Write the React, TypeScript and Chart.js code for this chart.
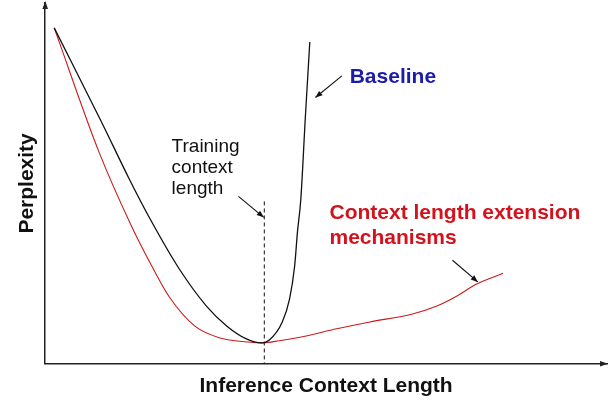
import { useEffect, useRef } from "react"
import { Chart, registerables } from "chart.js"
import type { Plugin } from "chart.js"

Chart.register(...registerables)

// curves, arbitrary units (0-100 on both axes)
const baselineX = [1.6, 10.0, 15.0, 18.9, 23.9, 28.7, 32.3, 35.8, 38.5, 39.9, 42.2, 43.5, 44.4, 44.9, 45.5, 46.3, 47.1]
const baselineY = [93.1, 67.1, 51.1, 39.5, 26.2, 16.0, 10.5, 6.9, 5.8, 6.6, 11.6, 18.0, 27.1, 36.5, 45.6, 68.2, 89.2]

const extendedX = [1.6, 9.6, 15.2, 18.9, 22.1, 26.6, 31.0, 35.5, 38.5, 41.7, 45.8, 51.9, 57.8, 65.4, 69.7, 73.3, 76.8, 81.5]
const extendedY = [93.1, 58.6, 38.7, 27.3, 18.5, 10.5, 7.2, 6.1, 5.8, 6.4, 7.5, 9.7, 11.6, 13.8, 16.0, 18.8, 22.1, 25.1]

// training context length marker
const trainingLength = 39.0
const markerTop = 45

const FONT = "'Liberation Sans', Arial, sans-serif"

const toPoints = (xs: number[], ys: number[]) => xs.map((x, i) => ({ x, y: ys[i] }))

function arrowHead(ctx: CanvasRenderingContext2D, x1: number, y1: number, x2: number, y2: number, len = 7, half = 2.8) {
  const a = Math.atan2(y2 - y1, x2 - x1)
  ctx.beginPath()
  ctx.moveTo(x2, y2)
  ctx.lineTo(x2 - len * Math.cos(a) + half * Math.sin(a), y2 - len * Math.sin(a) - half * Math.cos(a))
  ctx.lineTo(x2 - len * Math.cos(a) - half * Math.sin(a), y2 - len * Math.sin(a) + half * Math.cos(a))
  ctx.closePath()
  ctx.fill()
}

// annotations: arrows from/to in data units, labels with baseline positions
const arrows = [
  { from: [34.4, 46.4], to: [38.9, 40.6] },
  { from: [52.8, 79.8], to: [48.1, 73.8] },
  { from: [72.5, 28.7], to: [77.0, 22.7] },
]

const labels = [
  { lines: ["Training", "context", "length"], x: 22.5, y: 58.8, step: 5.9, font: `19px ${FONT}`, color: "#111" },
  { lines: ["Baseline"], x: 54.2, y: 77.9, step: 0, font: `bold 21px ${FONT}`, color: "#1c1cab" },
  { lines: ["Context length extension", "mechanisms"], x: 50.6, y: 40.1, step: 7.0, font: `bold 21px ${FONT}`, color: "#d4121c" },
]

const sketchPlugin: Plugin<"line"> = {
  id: "sketch",
  beforeDatasetsDraw(chart) {
    const { ctx, scales } = chart
    const x = scales.x.getPixelForValue(trainingLength)
    ctx.save()
    ctx.strokeStyle = "#111"
    ctx.lineWidth = 1
    ctx.setLineDash([4, 3])
    ctx.beginPath()
    ctx.moveTo(x, scales.y.getPixelForValue(markerTop))
    ctx.lineTo(x, scales.y.getPixelForValue(0))
    ctx.stroke()
    ctx.restore()
  },
  afterDraw(chart) {
    const { ctx, scales, chartArea } = chart
    ctx.save()
    ctx.fillStyle = "#222"
    // axis arrowheads
    arrowHead(ctx, chartArea.left, chartArea.top + 10, chartArea.left, chartArea.top - 2, 8, 2.8)
    arrowHead(ctx, chartArea.right - 10, chartArea.bottom, chartArea.right + 1, chartArea.bottom, 8, 2.8)

    ctx.strokeStyle = "#111"
    ctx.fillStyle = "#111"
    ctx.lineWidth = 1.1
    arrows.forEach(({ from, to }) => {
      const x1 = scales.x.getPixelForValue(from[0])
      const y1 = scales.y.getPixelForValue(from[1])
      const x2 = scales.x.getPixelForValue(to[0])
      const y2 = scales.y.getPixelForValue(to[1])
      ctx.beginPath()
      ctx.moveTo(x1, y1)
      ctx.lineTo(x2, y2)
      ctx.stroke()
      arrowHead(ctx, x1, y1, x2, y2)
    })

    ctx.textAlign = "left"
    ctx.textBaseline = "alphabetic"
    labels.forEach((l) => {
      ctx.font = l.font
      ctx.fillStyle = l.color
      l.lines.forEach((line, i) => {
        ctx.fillText(line, scales.x.getPixelForValue(l.x), scales.y.getPixelForValue(l.y - i * l.step))
      })
    })
    ctx.restore()
  },
}

export default function App() {
  const canvasRef = useRef<HTMLCanvasElement>(null)
  const chartRef = useRef<Chart | null>(null)

  useEffect(() => {
    document.body.style.margin = "0"
    if (!canvasRef.current) return
    if (chartRef.current) chartRef.current.destroy()

    const axis = {
      type: "linear" as const,
      min: 0,
      max: 100,
      ticks: { display: false },
      grid: { display: false, drawTicks: false },
      border: { display: true, color: "#222", width: 1.5 },
    }

    chartRef.current = new Chart(canvasRef.current, {
      type: "line",
      data: {
        datasets: [
          {
            label: "Baseline",
            data: toPoints(baselineX, baselineY),
            borderColor: "#111",
            borderWidth: 1.3,
            pointRadius: 0,
            cubicInterpolationMode: "monotone",
          },
          {
            label: "Context length extension mechanisms",
            data: toPoints(extendedX, extendedY),
            borderColor: "#cc1a1a",
            borderWidth: 1.1,
            pointRadius: 0,
            cubicInterpolationMode: "monotone",
          },
        ],
      },
      options: {
        animation: false,
        responsive: true,
        maintainAspectRatio: false,
        layout: { padding: { left: 11, right: 8, top: 3, bottom: 12 } },
        plugins: { legend: { display: false }, tooltip: { enabled: false } },
        scales: {
          x: {
            ...axis,
            title: {
              display: true,
              text: "Inference Context Length",
              color: "#111",
              font: { family: FONT, size: 21, weight: "bold" },
              padding: { top: 10, bottom: 4 },
            },
          },
          y: {
            ...axis,
            title: {
              display: true,
              text: "Perplexity",
              color: "#111",
              font: { family: FONT, size: 21, weight: "bold" },
              padding: { top: 4, bottom: 5 },
            },
          },
        },
      },
      plugins: [sketchPlugin],
    })

    return () => {
      if (chartRef.current) {
        chartRef.current.destroy()
        chartRef.current = null
      }
    }
  }, [])

  return (
    <div style={{ position: "relative", width: 615, height: 415, background: "#fff" }}>
      <canvas ref={canvasRef} />
    </div>
  )
}
